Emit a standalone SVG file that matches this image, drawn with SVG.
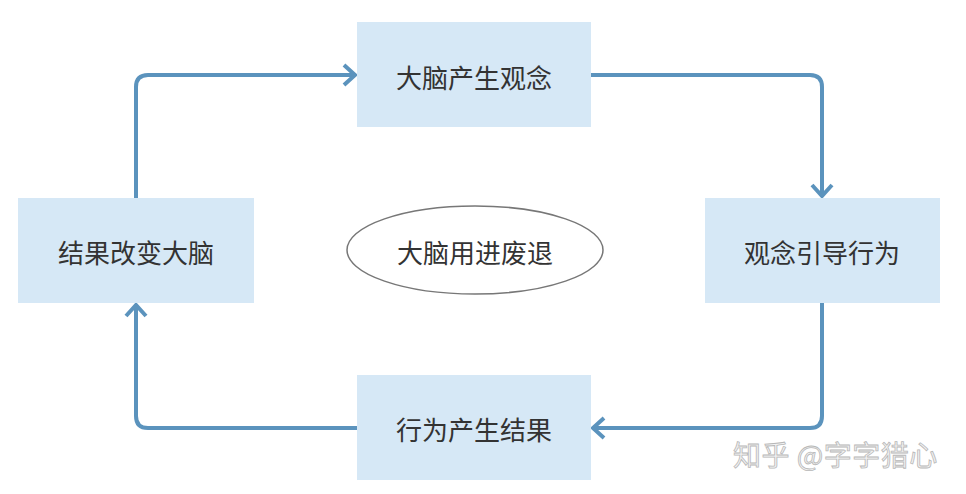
<svg xmlns="http://www.w3.org/2000/svg" width="966" height="494" viewBox="0 0 966 494">
<defs>
<style>
.box{fill:#d6e8f6;}
.lbl{font-family:"Noto Sans CJK SC","Noto Sans",sans-serif;font-size:26px;fill:#333333;text-anchor:middle;dominant-baseline:central;}
.conn{fill:none;stroke:#5b93bd;stroke-width:4;stroke-linejoin:round;}
.wm{font-family:"Noto Sans CJK SC","Noto Sans",sans-serif;font-size:28px;letter-spacing:0.5px;fill:#f2f2f2;stroke:#b8b8b8;stroke-width:0.8;dominant-baseline:central;}
</style>
<marker id="arr" viewBox="0 0 16 24" refX="13" refY="12" markerWidth="16" markerHeight="24" markerUnits="userSpaceOnUse" orient="auto">
<path d="M2,2 L13,12 L2,22" fill="none" stroke="#5b93bd" stroke-width="4"/>
</marker>
</defs>
<rect width="966" height="494" fill="#ffffff"/>
<g id="connectors">
<path class="conn" d="M136,198 V87 Q136,75 148,75 H355" marker-end="url(#arr)"/>
<path class="conn" d="M591,75 H810 Q822,75 822,87 V196" marker-end="url(#arr)"/>
<path class="conn" d="M822,303 V416 Q822,428 810,428 H593" marker-end="url(#arr)"/>
<path class="conn" d="M357,428 H148 Q136,428 136,416 V305" marker-end="url(#arr)"/>
</g>
<g id="node-top">
<rect class="box" x="357" y="22" width="234" height="105"/>
<text class="lbl" x="474" y="76">大脑产生观念</text>
</g>
<g id="node-right">
<rect class="box" x="705" y="198" width="235" height="105"/>
<text class="lbl" x="822" y="251">观念引导行为</text>
</g>
<g id="node-bottom">
<rect class="box" x="357" y="375" width="234" height="105"/>
<text class="lbl" x="474" y="428">行为产生结果</text>
</g>
<g id="node-left">
<rect class="box" x="18" y="198" width="236" height="105"/>
<text class="lbl" x="136" y="251">结果改变大脑</text>
</g>
<g id="node-center">
<ellipse cx="475" cy="250" rx="128" ry="44" fill="#ffffff" stroke="#777777" stroke-width="1.5"/>
<text class="lbl" x="475" y="251">大脑用进废退</text>
</g>
<text class="wm" x="733" y="454">知乎 @字字猎心</text>
</svg>
